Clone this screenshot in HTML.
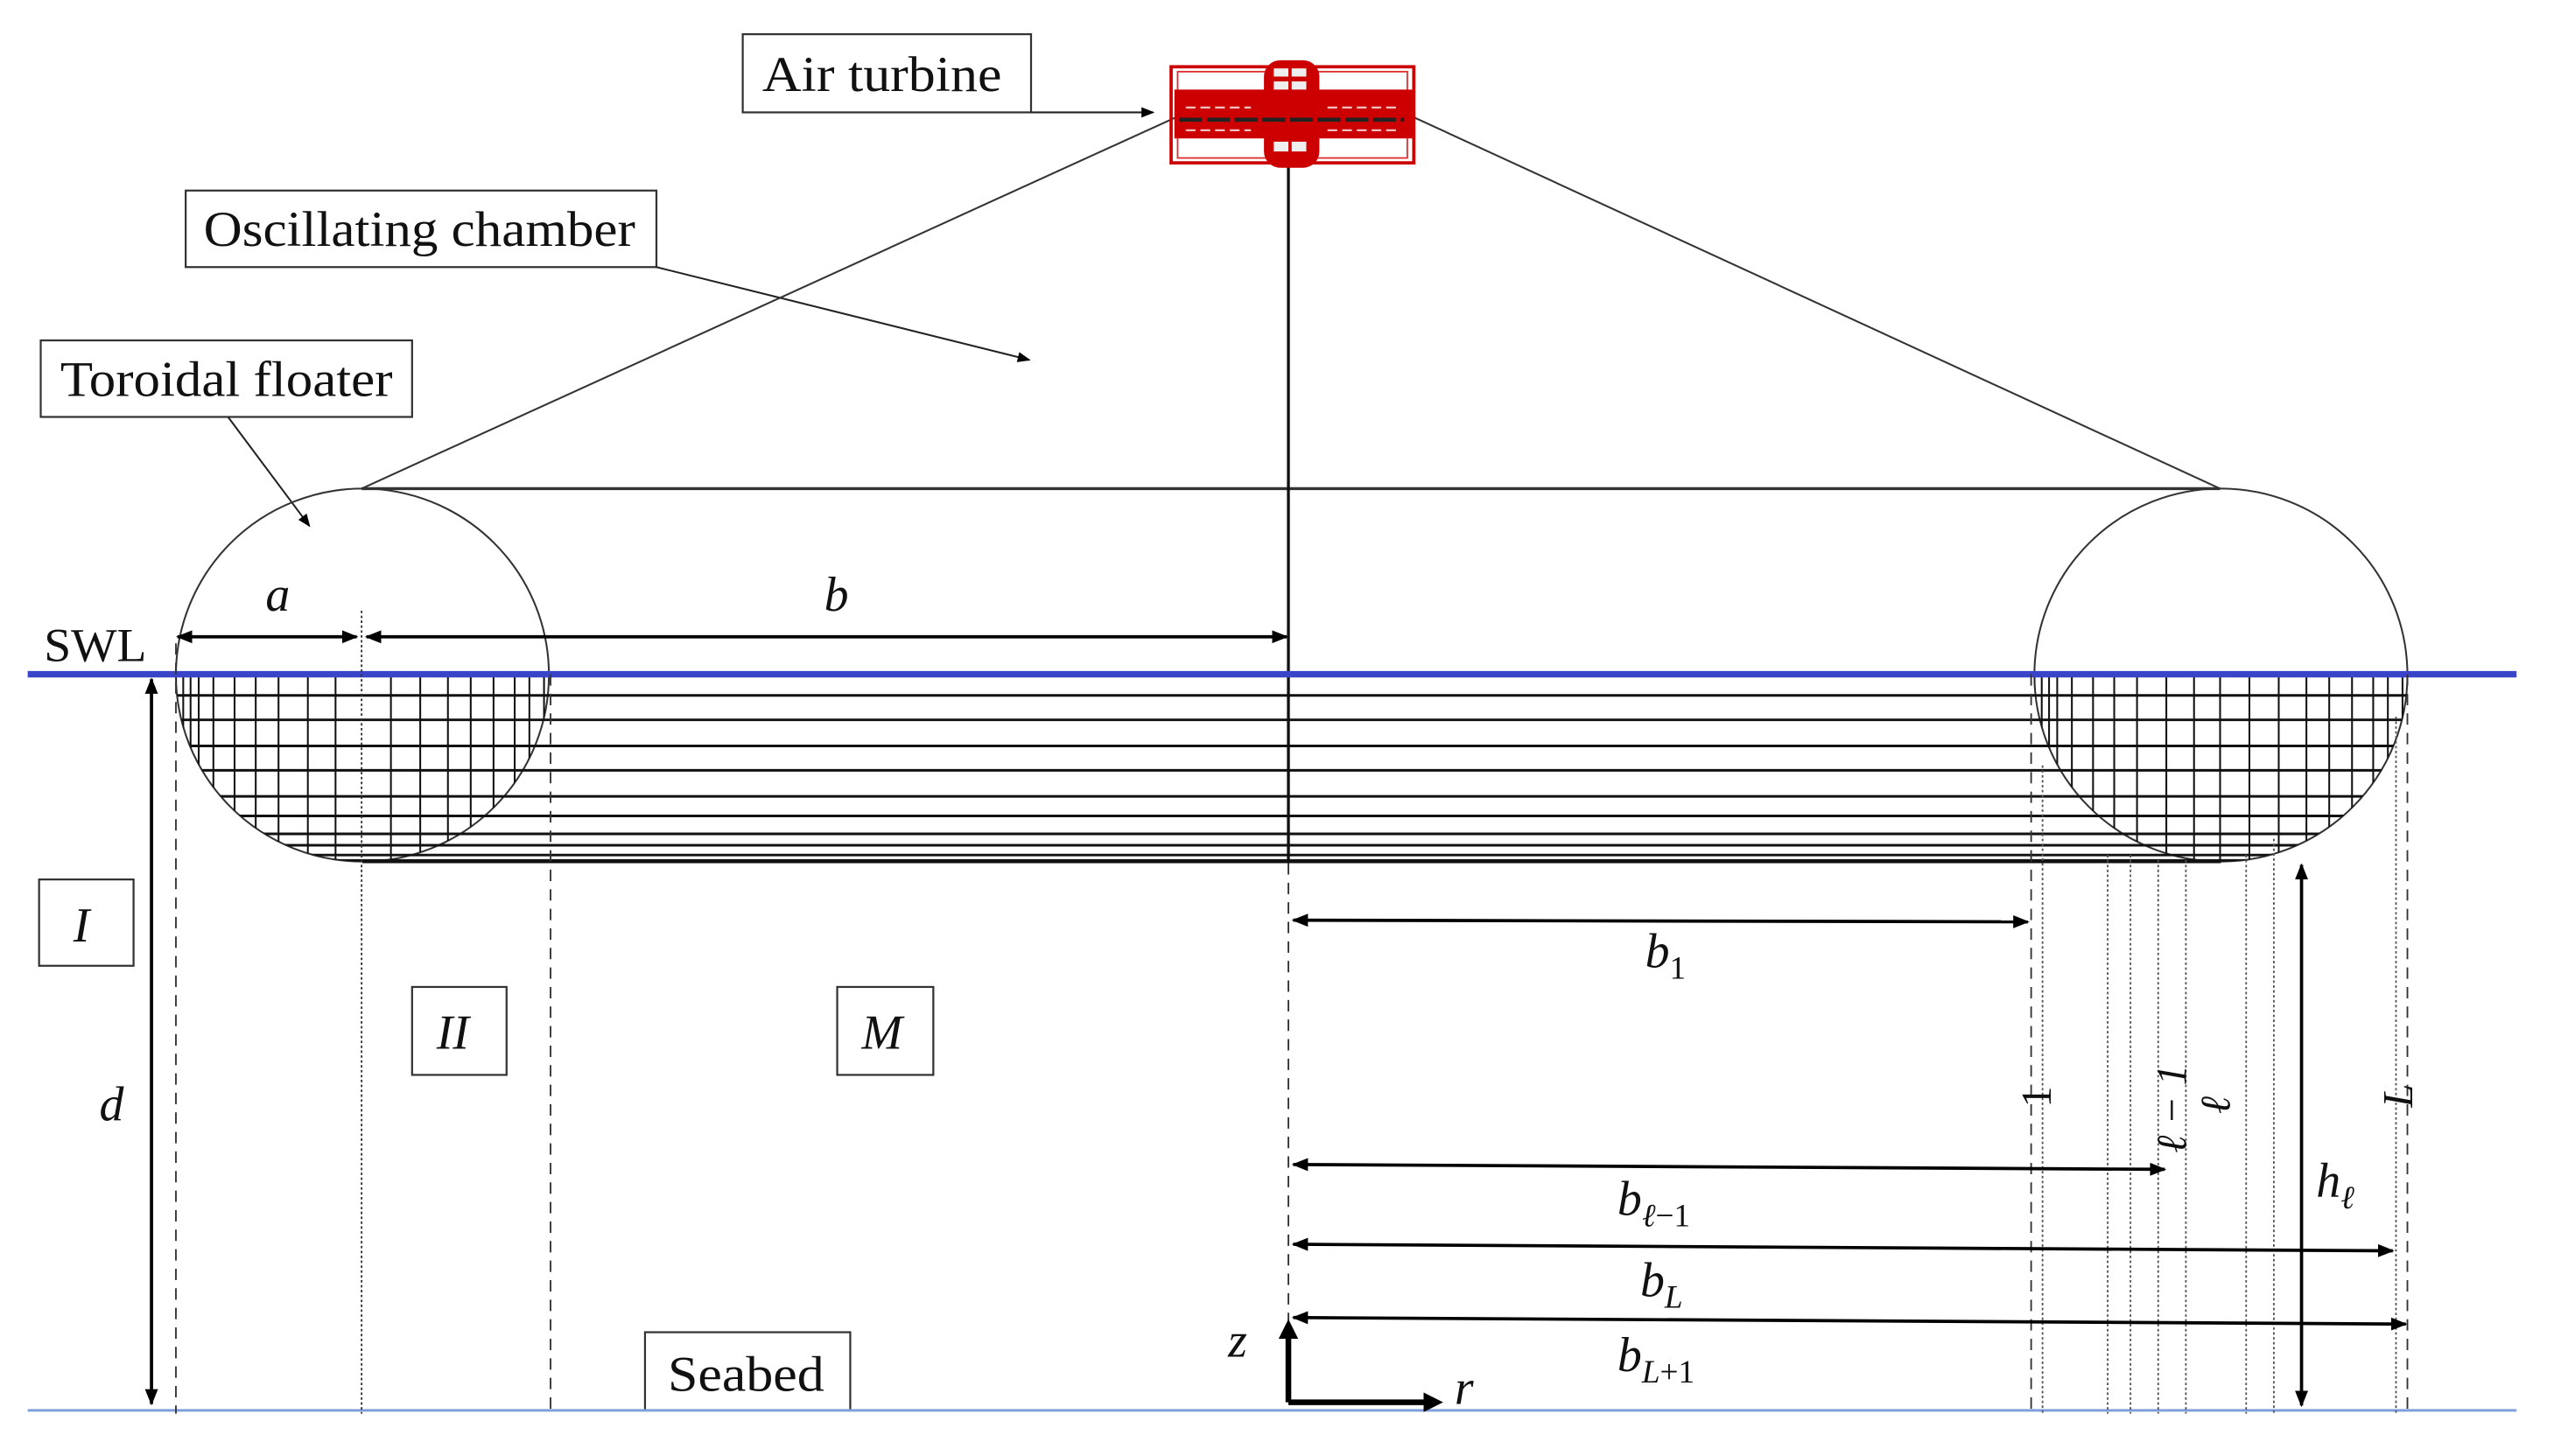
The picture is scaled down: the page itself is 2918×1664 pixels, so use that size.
<!DOCTYPE html>
<html><head><meta charset="utf-8">
<style>
html,body{margin:0;padding:0;background:#fff;}
svg{display:block;}
text{font-family:"Liberation Serif",serif;fill:#111;}
.lab{font-size:31px;}
.it{font-style:italic;font-size:30px;}
</style></head>
<body>
<svg width="2918" height="1664" viewBox="0 0 1568 894" preserveAspectRatio="none" xmlns="http://www.w3.org/2000/svg">
<defs>
<marker id="ah" viewBox="0 0 10 10" refX="9" refY="5" markerWidth="10" markerHeight="10" markerUnits="userSpaceOnUse" orient="auto-start-reverse">
<path d="M0,1 L10,5 L0,9 z" fill="#000"/></marker>
<marker id="ahs" viewBox="0 0 10 10" refX="9" refY="5" markerWidth="8" markerHeight="8" markerUnits="userSpaceOnUse" orient="auto-start-reverse">
<path d="M0,1 L10,5 L0,9 z" fill="#000"/></marker>
<clipPath id="wet">
<rect x="222.5" y="414" width="1141" height="116"/>
<circle cx="222.5" cy="414.5" r="114.5"/>
<circle cx="1363.5" cy="414.5" r="114.5"/>
</clipPath>
<clipPath id="lc"><circle cx="222.5" cy="414.5" r="114.5"/></clipPath>
<clipPath id="rc"><circle cx="1363.5" cy="414.5" r="114.5"/></clipPath>
</defs>

<g fill="none" stroke="#333" stroke-width="1.2">
<rect x="456" y="21" width="177" height="48"/>
<rect x="114" y="117" width="289" height="47"/>
<rect x="25" y="209" width="228" height="47"/>
<rect x="24" y="540" width="58" height="53"/>
<rect x="253" y="606" width="58" height="54"/>
<rect x="514" y="606" width="59" height="54"/>
<rect x="396" y="818" width="126" height="48"/>
</g>
<text class="lab" x="468" y="56" textLength="147" lengthAdjust="spacingAndGlyphs">Air turbine</text>
<text class="lab" x="125" y="151" textLength="265" lengthAdjust="spacingAndGlyphs">Oscillating chamber</text>
<text class="lab" x="37" y="243" textLength="204" lengthAdjust="spacingAndGlyphs">Toroidal floater</text>
<text class="it" x="45" y="578">I</text>
<text class="it" x="268" y="644">II</text>
<text class="it" x="529" y="644">M</text>
<text class="lab" x="410" y="854" textLength="96" lengthAdjust="spacingAndGlyphs">Seabed</text>

<g stroke="#222" stroke-width="1.1" fill="none">
<polyline points="633,69 708,69" marker-end="url(#ahs)"/>
<line x1="403" y1="164" x2="632" y2="221" marker-end="url(#ahs)"/>
<line x1="140" y1="256" x2="190" y2="323" marker-end="url(#ahs)"/>
</g>

<g stroke="#333" stroke-width="1.1" fill="none">
<line x1="222" y1="300" x2="722" y2="72"/>
<line x1="1363" y1="300" x2="868" y2="72"/>
<line x1="222" y1="300" x2="1363" y2="300" stroke-width="1.8"/>
<circle cx="222.5" cy="414.5" r="114.5"/>
<circle cx="1363.5" cy="414.5" r="114.5"/>
</g>

<g clip-path="url(#wet)" stroke="#111" stroke-width="1.6">
<line x1="100" x2="1490" y1="427" y2="427"/>
<line x1="100" x2="1490" y1="442" y2="442"/>
<line x1="100" x2="1490" y1="458" y2="458"/>
<line x1="100" x2="1490" y1="473" y2="473"/>
<line x1="100" x2="1490" y1="489" y2="489"/>
<line x1="100" x2="1490" y1="501" y2="501"/>
<line x1="100" x2="1490" y1="512" y2="512"/>
<line x1="100" x2="1490" y1="519" y2="519"/>
<line x1="100" x2="1490" y1="525" y2="525"/>
<line x1="100" x2="1490" y1="529" y2="529" stroke-width="3"/>
</g>
<g clip-path="url(#lc)" stroke="#111" stroke-width="1.1">
<path d="M108,414V530M112.5,414V530M117,414V530M122,414V530M131,414V530M144,414V530M157,414V530M171,414V530M189,414V530M206,414V530M240,414V530M258,414V530M275,414V530M289,414V530M303,414V530M316,414V530M325,414V530M334,414V530"/>
</g>
<g clip-path="url(#rc)" stroke="#111" stroke-width="1.1">
<path d="M1249,414V530M1253.5,414V530M1258,414V530M1263,414V530M1272,414V530M1285,414V530M1298,414V530M1312,414V530M1330,414V530M1347,414V530M1363,414V530M1381,414V530M1399,414V530M1416,414V530M1430,414V530M1444,414V530M1457,414V530M1466,414V530M1475,414V530"/>
</g>

<line x1="791" y1="72" x2="791" y2="530" stroke="#111" stroke-width="1.8"/>

<g>
<rect x="719" y="41" width="149" height="59" fill="none" stroke="#cc0000" stroke-width="2"/>
<rect x="723" y="44" width="141" height="53" fill="none" stroke="#d33" stroke-width="1"/>
<rect x="721" y="55" width="146" height="30" fill="#cc0000"/>
<rect x="776" y="37" width="34" height="66" rx="10" fill="#cc0000"/>
<rect x="782" y="42" width="9" height="5" fill="#eee"/><rect x="793" y="42" width="9" height="5" fill="#eee"/>
<rect x="782" y="50" width="9" height="5" fill="#eee"/><rect x="793" y="50" width="9" height="5" fill="#eee"/>
<rect x="782" y="87" width="9" height="6" fill="#eee"/><rect x="793" y="87" width="9" height="6" fill="#eee"/>
<line x1="724" y1="73.5" x2="862" y2="73.5" stroke="#222" stroke-width="2.5" stroke-dasharray="14,3"/>
<path d="M728,66h40M728,80h40M815,66h45M815,80h45" stroke="#f3c0c0" stroke-width="1.2" stroke-dasharray="6,3"/>
</g>

<line x1="17" y1="414" x2="1545" y2="414" stroke="#3a44c8" stroke-width="4"/>
<text x="27" y="406" style="font-size:29px" textLength="63" lengthAdjust="spacingAndGlyphs">SWL</text>
<line x1="17" y1="866" x2="1545" y2="866" stroke="#7f9fdc" stroke-width="1.6"/>

<g stroke="#000" stroke-width="2" fill="none">
<line x1="109" y1="391" x2="219" y2="391" marker-start="url(#ah)" marker-end="url(#ah)"/>
<line x1="225" y1="391" x2="790" y2="391" marker-start="url(#ah)" marker-end="url(#ah)"/>
<line x1="93" y1="417" x2="93" y2="862" marker-start="url(#ah)" marker-end="url(#ah)"/>
</g>
<text class="it" x="163" y="375">a</text>
<text class="it" x="506" y="375">b</text>
<text class="it" x="61" y="688">d</text>

<g stroke="#333" stroke-width="1" fill="none">
<line x1="108" y1="395" x2="108" y2="868" stroke-dasharray="7,5"/>
<line x1="338" y1="414" x2="338" y2="868" stroke-dasharray="7,5"/>
<line x1="222" y1="375" x2="222" y2="868" stroke-dasharray="1.5,1.5"/>
<line x1="791" y1="530" x2="791" y2="812" stroke-dasharray="7,5"/>
<line x1="1247" y1="414" x2="1247" y2="868" stroke-dasharray="7,5"/>
<line x1="1478" y1="414" x2="1478" y2="868" stroke-dasharray="7,5"/>
</g>
<g stroke="#555" stroke-width="1" fill="none" stroke-dasharray="1.5,1.5">
<path d="M1254,470V868M1294,525V868M1308,525V868M1325,528V868M1342,528V868M1379,525V868M1396,515V868M1471,440V868"/>
</g>

<g stroke="#000" stroke-width="2" fill="none">
<line x1="794" y1="565" x2="1245" y2="566" marker-start="url(#ah)" marker-end="url(#ah)"/>
<line x1="794" y1="715" x2="1329" y2="718" marker-start="url(#ah)" marker-end="url(#ah)"/>
<line x1="794" y1="764" x2="1469" y2="768" marker-start="url(#ah)" marker-end="url(#ah)"/>
<line x1="794" y1="809" x2="1477" y2="813" marker-start="url(#ah)" marker-end="url(#ah)"/>
<line x1="1413" y1="531" x2="1413" y2="863" marker-start="url(#ah)" marker-end="url(#ah)"/>
</g>
<text class="it" x="1010" y="594">b<tspan style="font-size:20px;font-style:normal" dy="7">1</tspan></text>
<text class="it" x="993" y="746">b<tspan style="font-size:20px" dy="7">ℓ</tspan><tspan style="font-size:20px;font-style:normal">−1</tspan></text>
<text class="it" x="1007" y="796">b<tspan style="font-size:20px" dy="7">L</tspan></text>
<text class="it" x="993" y="842">b<tspan style="font-size:20px" dy="7">L</tspan><tspan style="font-size:20px;font-style:normal">+1</tspan></text>
<text class="it" x="1422" y="735">h<tspan style="font-size:20px" dy="7">ℓ</tspan></text>

<text transform="translate(1259,680) rotate(-90)" style="font-size:26px">1</text>
<text transform="translate(1342,708) rotate(-90)" style="font-size:26px;font-style:italic">ℓ − 1</text>
<text transform="translate(1369,684) rotate(-90)" style="font-size:26px;font-style:italic">ℓ</text>
<text transform="translate(1481,680) rotate(-90)" style="font-size:26px;font-style:italic">L</text>

<g stroke="#000" stroke-width="3.5" fill="none">
<line x1="791" y1="861" x2="791" y2="818"/>
<line x1="791" y1="861" x2="876" y2="861"/>
</g>
<path d="M791,810 L785,822 L797,822 z" fill="#000"/>
<path d="M886,861 L874,855 L874,867 z" fill="#000"/>
<text class="it" x="754" y="833">z</text>
<text class="it" x="893" y="862">r</text>
</svg>
</body></html>
